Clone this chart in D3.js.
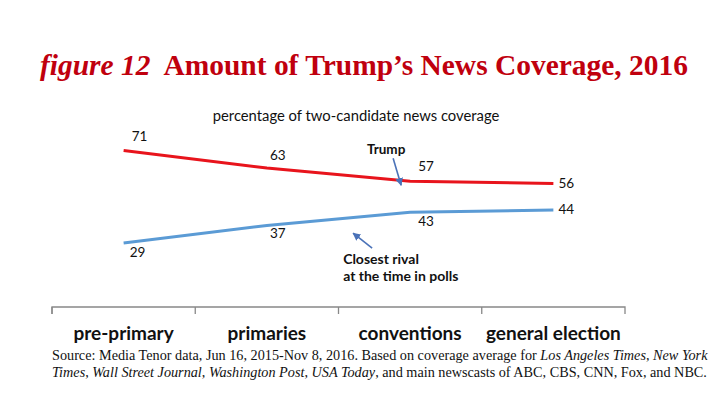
<!DOCTYPE html>
<html>
<head>
<meta charset="utf-8">
<script src="https://cdn.jsdelivr.net/npm/d3@7"></script>
<style>
  body { margin: 0; background: #fff; }
  svg { display: block; }
</style>
</head>
<body>
<div id="chart"></div>
<script>
const width = 720
const height = 405
const margin = ({top: 86, right: 95, bottom: 98, left: 52})

// data
const categories = ["pre-primary", "primaries", "conventions", "general election"]
const trump = [71, 63, 57, 56]
const rival = [29, 37, 43, 44]

const red = "#e8141c"
const blue = "#5b9bd5"
const titleRed = "#c0000e"
const sans = "Lato, 'Open Sans', sans-serif"
const serif = "'Liberation Serif', Georgia, serif"

const x = d3.scaleBand()
  .domain(categories)
  .range([margin.left, width - margin.right])

const y = d3.scaleLinear()
  .domain([0, 100])
  .range([height - margin.bottom, margin.top + 0.5])

const cx = c => x(c) + x.bandwidth() / 2

const svg = d3.select("#chart").append("svg")
  .attr("width", width)
  .attr("height", height)
  .attr("viewBox", [0, 0, width, height])

// shrink/grow a text's font so it spans a given width
function fitWidth(sel, w) {
  const size = +sel.attr("font-size")
  const len = sel.node().getComputedTextLength()
  sel.attr("font-size", (size * w / len).toFixed(2))
}

// title
const title = svg.append("text")
  .attr("x", 40)
  .attr("y", 75)
  .attr("fill", titleRed)
  .attr("font-family", serif)
  .attr("font-weight", "bold")
  .attr("font-size", 28)
title.append("tspan").attr("font-style", "italic").text("figure 12")
title.append("tspan").text("\u00a0 Amount of Trump\u2019s News Coverage, 2016")
fitWidth(title, 648)

svg.append("text")
  .attr("x", 356)
  .attr("y", 121)
  .attr("text-anchor", "middle")
  .attr("font-family", sans)
  .attr("font-size", 14.8)
  .attr("fill", "#111")
  .text("percentage of two-candidate news coverage")

// axis
const xAxis = g => g
  .attr("transform", `translate(0,${y(0)})`)
  .call(d3.axisBottom(x).tickSize(7).tickSizeOuter(7).tickFormat(""))
  .call(g => g.select(".domain").attr("stroke", "#888").attr("stroke-width", 1.3)
    .attr("d", `M${margin.left},7V0H${width - margin.right}V7`))
  .call(g => g.selectAll(".tick line").attr("stroke", "#888").attr("stroke-width", 1.3)
    .attr("transform", `translate(${-x.bandwidth() / 2},0)`))

svg.append("g").call(xAxis)

svg.append("g")
  .selectAll("text")
  .data(categories)
  .join("text")
  .attr("x", d => cx(d))
  .attr("y", y(0) + 33)
  .attr("text-anchor", "middle")
  .attr("font-family", sans)
  .attr("font-weight", "bold")
  .attr("font-size", 19)
  .attr("fill", "#111")
  .text(d => d)

// lines
const line = d3.line()
  .x((d, i) => cx(categories[i]))
  .y(d => y(d))

svg.append("path")
  .datum(trump)
  .attr("fill", "none")
  .attr("stroke", red)
  .attr("stroke-width", 3)
  .attr("d", line)

svg.append("path")
  .datum(rival)
  .attr("fill", "none")
  .attr("stroke", blue)
  .attr("stroke-width", 3)
  .attr("d", line)

// value labels
const trumpOff = [[16, -9], [11, -8], [16, -10], [13, 4]]
const rivalOff = [[14, 14], [11, 13], [16, 14], [13, 4]]

const labels = svg.append("g")
  .attr("font-family", sans)
  .attr("font-size", 13.5)
  .attr("fill", "#111")
  .attr("text-anchor", "middle")

labels.selectAll(".t")
  .data(trump)
  .join("text")
  .attr("x", (d, i) => cx(categories[i]) + trumpOff[i][0])
  .attr("y", (d, i) => y(d) + trumpOff[i][1])
  .text(d => d)

labels.selectAll(".r")
  .data(rival)
  .join("text")
  .attr("x", (d, i) => cx(categories[i]) + rivalOff[i][0])
  .attr("y", (d, i) => y(d) + rivalOff[i][1])
  .text(d => d)

// annotations
svg.append("defs").append("marker")
  .attr("id", "head")
  .attr("viewBox", "0 0 10 10")
  .attr("refX", 9).attr("refY", 5)
  .attr("markerWidth", 5).attr("markerHeight", 5)
  .attr("orient", "auto")
  .append("path")
  .attr("d", "M0,0L10,5L0,10z")
  .attr("fill", "#4a72b8")

const conv = cx("conventions")
svg.append("text")
  .attr("x", conv - 24)
  .attr("y", y(57) - 27)
  .attr("text-anchor", "middle")
  .attr("font-family", sans)
  .attr("font-weight", "bold")
  .attr("font-size", 13.5)
  .attr("fill", "#111")
  .text("Trump")

svg.append("line")
  .attr("x1", conv - 17).attr("y1", y(57) - 23)
  .attr("x2", conv - 9).attr("y2", y(57) + 4)
  .attr("stroke", "#4a72b8")
  .attr("stroke-width", 1.6)
  .attr("marker-end", "url(#head)")

svg.append("line")
  .attr("x1", conv - 38).attr("y1", y(43) + 36)
  .attr("x2", conv - 57).attr("y2", y(43) + 21)
  .attr("stroke", "#4a72b8")
  .attr("stroke-width", 1.6)
  .attr("marker-end", "url(#head)")

const rv = svg.append("text")
  .attr("font-family", sans)
  .attr("font-weight", "bold")
  .attr("font-size", 14)
  .attr("fill", "#111")
rv.append("tspan").attr("x", conv - 67).attr("y", y(43) + 52).text("Closest rival")
rv.append("tspan").attr("x", conv - 67).attr("y", y(43) + 69).text("at the time in polls")

// source
const src1 = svg.append("text")
  .attr("x", 52).attr("y", 360)
  .attr("font-family", serif).attr("font-size", 13).attr("fill", "#111")
src1.append("tspan").text("Source: Media Tenor data, Jun 16, 2015-Nov 8, 2016. Based on coverage average for ")
src1.append("tspan").attr("font-style", "italic").text("Los Angeles Times")
src1.append("tspan").text(", ")
src1.append("tspan").attr("font-style", "italic").text("New York")
fitWidth(src1, 656)

const src2 = svg.append("text")
  .attr("x", 52).attr("y", 377)
  .attr("font-family", serif).attr("font-size", 13).attr("fill", "#111")
src2.append("tspan").attr("font-style", "italic").text("Times")
src2.append("tspan").text(", ")
src2.append("tspan").attr("font-style", "italic").text("Wall Street Journal")
src2.append("tspan").text(", ")
src2.append("tspan").attr("font-style", "italic").text("Washington Post")
src2.append("tspan").text(", ")
src2.append("tspan").attr("font-style", "italic").text("USA Today")
src2.append("tspan").text(", and main newscasts of ABC, CBS, CNN, Fox, and NBC.")
src2.attr("font-size", src1.attr("font-size"))
</script>
</body>
</html>
